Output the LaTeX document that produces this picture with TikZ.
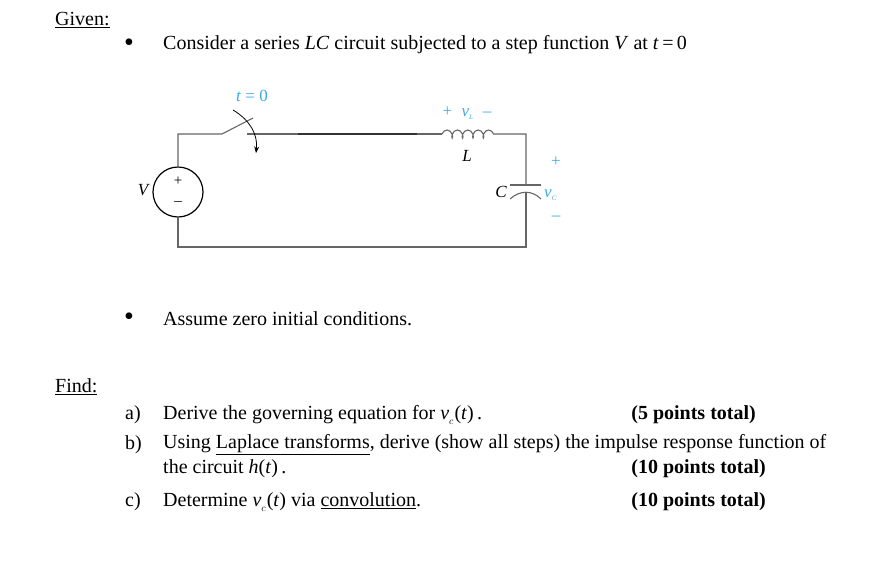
\documentclass[tikz,border=0pt]{standalone}
\usepackage{fontspec}
\setmainfont{Liberation Serif}
\usetikzlibrary{decorations.pathmorphing,arrows.meta}
\definecolor{cb}{RGB}{60,170,230}
\newcommand{\ii}[1]{\textit{#1}}
\begin{document}
\begin{tikzpicture}[x=1pt,y=-1pt,
  txt/.style={anchor=west,inner sep=0pt,font=\fontsize{20}{22}\selectfont},
  ctxt/.style={inner sep=0pt,font=\fontsize{17}{19}\selectfont},
  wire/.style={draw=gray!80!black,line width=1.1pt}]
\useasboundingbox (0,0) rectangle (880,568);
\node[txt] (given) at (55,20) {\underline{Given:}};
\node[txt,font=\fontsize{28}{28}\selectfont] (b1) at (124,45) {•};
\node[txt] (l1) at (163,45) {Consider a series \ii{LC} circuit subjected to a step function \ii{V} at \ii{t}\,=\,0};
% circuit
\coordinate (tl) at (178,134); \coordinate (bl) at (178,247);
\coordinate (tr) at (526,134); \coordinate (br) at (526,247);
\node[circle,draw,line width=1.2pt,minimum size=50pt,inner sep=0pt] (src) at (178,192) {};
\node[ctxt,font=\fontsize{15}{15}\selectfont] (sp) at (178,181) {+};
\node[ctxt,font=\fontsize{15}{15}\selectfont] (sm) at (178,204) {--};
\node[ctxt,anchor=east] (vl) at (150,190) {\ii{V}};
\coordinate (s1) at (222,134); \coordinate (s2) at (247,134); \coordinate (sw) at (253,118);
\coordinate (i1) at (442,134); \coordinate (i2) at (494,134);
\coordinate (c1) at (526,185); \coordinate (c2) at (526,194);
\draw[wire] (src.north) -- (tl) -- (s1) -- (sw);
\draw[wire] (s2) -- (i1);
\draw[line width=1.4pt,black!80] (298,134) -- (417,134);
\draw[wire] (i1) decorate[decoration={coil,aspect=0.6,segment length=10.4pt,amplitude=4pt}]{-- (i2)} -- (tr) -- (c1);
\draw[wire] (510,185) -- (541,185);
\draw[wire] (510,199) .. controls (520,190) and (532,190) .. (541,199);
\draw[wire] (526,192) -- (br) -- (bl) -- (src.south);
\draw[-{Stealth},line width=0.8pt] (233,110) .. controls (250,120) and (258,135) .. (256,153);
\node[ctxt,text=cb] (t0) at (252,96) {\ii{t} = 0};
\node[ctxt,text=cb] (vL) at (467,113) {+\;\;\ii{v}$_{\textit{\scriptsize L}}$\;\;--};
\node[ctxt] (L) at (467,156) {\ii{L}};
\node[ctxt,anchor=east] (C) at (507,192) {\ii{C}};
\node[ctxt,text=cb,anchor=west] (vC) at (544,195) {\ii{v}$_{\textit{\scriptsize C}}$};
\node[ctxt,text=cb] (cp) at (556,162) {+};
\node[ctxt,text=cb] (cm) at (556,218) {--};
\node[txt,font=\fontsize{28}{28}\selectfont] (b2) at (124,319) {•};
\node[txt] (l2) at (163,319) {Assume zero initial conditions.};
\node[txt] (find) at (55,387) {\underline{Find:}};
\node[txt] (a) at (125,415) {a)};
\node[txt] (at) at (163,415) {Derive the governing equation for \ii{v}$_{_c}$(\ii{t})\,.};
\node[txt,anchor=east] (ap) at (756,415) {\textbf{(5 points total)}};
\node[txt] (b) at (125,445) {b)};
\node[txt] (bt) at (163,445) {Using \underline{Laplace transforms}, derive (show all steps) the impulse response function of};
\node[txt] (bt2) at (163,469) {the circuit \ii{h}(\ii{t})\,.};
\node[txt,anchor=east] (bp) at (766,469) {\textbf{(10 points total)}};
\node[txt] (c) at (125,502) {c)};
\node[txt] (ct) at (163,502) {Determine \ii{v}$_{_c}$(\ii{t}) via \underline{convolution}.};
\node[txt,anchor=east] (cpt) at (766,502) {\textbf{(10 points total)}};
\end{tikzpicture}
\end{document}
